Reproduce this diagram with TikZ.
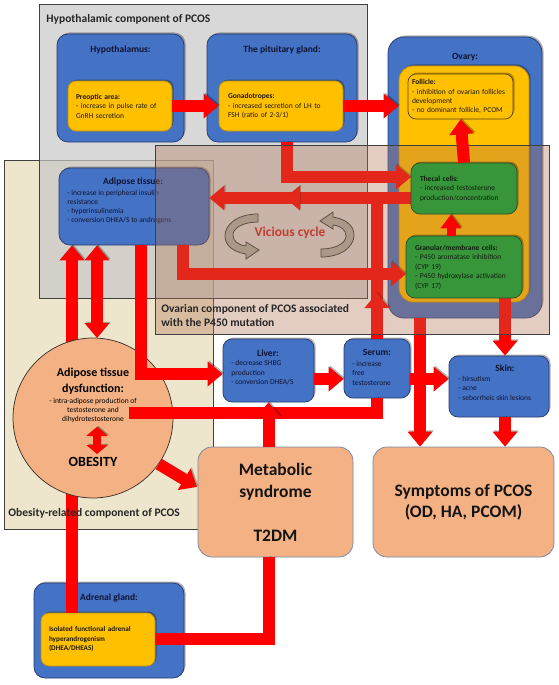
\documentclass[tikz,border=0pt]{standalone}
\usepackage{fontspec}
\setmainfont{Carlito}
\usetikzlibrary{arrows.meta,calc}

\tikzset{every picture/.style={line width=0.75pt}}
\tikzset{
	region/.style={draw={rgb, 255:red, 64; green, 64; blue, 64}, inner sep=0pt},
	regiontitle/.style={font=\fontsize{11.5}{14}\selectfont\bfseries, text={rgb, 255:red, 38; green, 38; blue, 38}, inner sep=0pt, anchor=west, align=left},
	boxshadow/.style={preaction={fill=black, fill opacity=0.3, transform canvas={shift={(1.5pt,1.5pt)}}}},
	bluebox/.style={draw={rgb, 255:red, 40; green, 60; blue, 110}, fill={rgb, 255:red, 68; green, 114; blue, 196}, rounded corners=11pt, inner sep=0pt, boxshadow},
	yellowbox/.style={draw={rgb, 255:red, 191; green, 144; blue, 0}, fill={rgb, 255:red, 255; green, 192; blue, 0}, rounded corners=8pt, inner sep=0pt, align=left, font=\fontsize{7.5}{9.5}\selectfont, text={rgb, 255:red, 30; green, 25; blue, 10}, boxshadow},
	greenbox/.style={draw={rgb, 255:red, 40; green, 80; blue, 40}, fill={rgb, 255:red, 56; green, 150; blue, 58}, rounded corners=9pt, inner sep=0pt, align=left, font=\fontsize{7.5}{9.5}\selectfont, text={rgb, 255:red, 15; green, 30; blue, 15}, boxshadow},
	salmonbox/.style={draw={rgb, 255:red, 120; green, 135; blue, 170}, fill={rgb, 255:red, 244; green, 177; blue, 131}, rounded corners=14pt, inner sep=0pt, align=center, font=\fontsize{17.5}{22}\selectfont\bfseries, text={rgb, 255:red, 20; green, 20; blue, 20}},
	boxtitle/.style={font=\fontsize{9.5}{11}\selectfont\bfseries, text={rgb, 255:red, 15; green, 20; blue, 50}, inner sep=0pt},
	bodytext/.style={font=\fontsize{7.5}{9.5}\selectfont, text={rgb, 255:red, 15; green, 20; blue, 50}, inner sep=0pt, align=left, anchor=west},
	flow/.style={draw={rgb, 255:red, 255; green, 0; blue, 0}, line width=12pt, -{Triangle[length=15pt,width=24pt]}, preaction={draw=black, opacity=0.3, transform canvas={shift={(1.2pt,1.2pt)}}}},
	bar/.style={flow, -},
	dflow/.style={flow, {Triangle[length=15pt,width=24pt]}-{Triangle[length=15pt,width=24pt]}},
	cyclearrow/.style={draw={rgb, 255:red, 90; green, 75; blue, 65}, fill={rgb, 255:red, 168; green, 148; blue, 132}, fill opacity=0.85}
}

\begin{document}
\begin{tikzpicture}[x=1pt,y=1pt,yscale=-1,xscale=1]
	\useasboundingbox (0,0) rectangle (558,685);

	%Regions
	\node[region, fill={rgb, 255:red, 238; green, 230; blue, 204}, minimum width=209pt, minimum height=369pt] (obesityreg) at (108.5,344.5) {};
	\node[region, fill={rgb, 255:red, 200; green, 200; blue, 200}, fill opacity=0.7, minimum width=328pt, minimum height=294pt] (hyporeg) at (203,151) {};

	%Hypothalamus
	\node[bluebox, minimum width=127pt, minimum height=108pt] (hypo) at (120.5,88) {};
	\node[boxtitle] (hypotitle) at (120.5,50) {Hypothalamus:};
	\node[yellowbox, minimum width=104pt, minimum height=50pt, text width=88pt] (preoptic) at (120,106) {\textbf{Preoptic area:}\\- increase in pulse rate of\\GnRH secretion};
	%Pituitary gland
	\node[bluebox, minimum width=150pt, minimum height=108pt] (pitu) at (282,88) {};
	\node[boxtitle] (pitutitle) at (282,50) {The pituitary gland:};
	\node[yellowbox, minimum width=124pt, minimum height=50pt, text width=106pt] (gonad) at (281,106) {\textbf{Gonadotropes:}\\- increased secretion of LH to\\FSH (ratio of 2-3/1)};
	%Ovary
	\node[bluebox, rounded corners=16pt, minimum width=154pt, minimum height=281pt] (ovary) at (465,177.5) {};
	\node[boxtitle] (ovarytitle) at (465,57) {Ovary:};
	\node[yellowbox, rounded corners=14pt, minimum width=130pt, minimum height=236pt] (ovaryin) at (464,184) {};
	\node[yellowbox, draw={rgb, 255:red, 90; green, 70; blue, 20}, font=\fontsize{7.5}{9.3}\selectfont, minimum width=105pt, minimum height=45pt, text width=97pt] (follicle) at (460.5,96.5) {\textbf{Follicle:}\\- inhibition of ovarian follicles\\development\\- no dominant follicle, PCOM};
	%Adipose tissue
	\node[bluebox, minimum width=150pt, minimum height=77pt] (adipose) at (134,206.5) {};
	\node[boxtitle] (adiposetitle) at (133,182) {Adipose tissue:};
	\node[bodytext, font=\fontsize{7.5}{9.3}\selectfont] (adiposebody) at (67,207) {- increase in peripheral insulin\\resistance\\- hyperinsulinemia\\- conversion DHEA/S to androgens};
	%Liver, serum, skin
	\node[bluebox, rounded corners=9pt, minimum width=91pt, minimum height=63pt] (liver) at (268.5,370.5) {};
	\node[boxtitle] (livertitle) at (268,353) {Liver:};
	\node[bodytext] (liverbody) at (231,373) {- decrease SHBG\\production\\- conversion DHEA/S};
	\node[bluebox, rounded corners=9pt, minimum width=66pt, minimum height=59pt] (serum) at (377,368.5) {};
	\node[boxtitle] (serumtitle) at (377,352) {Serum:};
	\node[bodytext] (serumbody) at (352,373) {- increase\\free\\testosterone};
	\node[bluebox, rounded corners=9pt, minimum width=100pt, minimum height=61pt] (skin) at (499,386.5) {};
	\node[boxtitle] (skintitle) at (505,368) {Skin:};
	\node[bodytext] (skinbody) at (458,388) {- hirsutism\\- acne\\- seborrheic skin lesions};
	%Adrenal gland
	\node[bluebox, minimum width=150pt, minimum height=95pt] (adrenal) at (109,630.5) {};
	\node[boxtitle] (adrenaltitle) at (109,598) {Adrenal gland:};
	\node[yellowbox, font=\fontsize{7.2}{9.5}\selectfont\bfseries, minimum width=114pt, minimum height=53pt, text width=98pt] (adrenalin) at (98,639.5) {Isolated functional adrenal\\hyperandrogenism\\(DHEA/DHEAS)};
	%Metabolic syndrome, symptoms
	\node[salmonbox, minimum width=155pt, minimum height=110pt] (metab) at (275.5,502) {Metabolic\\syndrome\\[22pt]T2DM};
	\node[salmonbox, font=\fontsize{17.5}{21}\selectfont\bfseries, minimum width=181pt, minimum height=110pt] (symptoms) at (463.5,502) {Symptoms of PCOS\\(OD, HA, PCOM)};

	%Arrows
	\coordinate (k1) at (287,177);
	\coordinate (k2) at (377,198);
	\coordinate (k3) at (285,198);
	\coordinate (k4) at (377,293);
	\coordinate (k5) at (183,274);
	\coordinate (k6) at (141,374);
	\coordinate (k7) at (72,0);
	\coordinate (k8) at (97,338);
	\coordinate (k9) at (129,413);
	\coordinate (k10) at (197,487);
	\coordinate (k11) at (0,379);
	\coordinate (k12) at (420,0);
	\coordinate (k13) at (505,0);
	\coordinate (k14) at (269,639);
	\coordinate (k15) at (451,0);
	\coordinate (thecalw) at (411,0);
	\coordinate (granw) at (406,0);
	\coordinate (grans) at (0,298);

	\draw[flow] (adrenalin.north -| k7) -- (adipose.south -| k7);
	\draw[bar] (k14 -| adrenalin.east) -- (k14) -- (k14 |- metab.south);

	%Adipose tissue dysfunction
	\node[circle, draw={rgb, 255:red, 60; green, 50; blue, 45}, fill={rgb, 255:red, 244; green, 177; blue, 131}, minimum size=160pt, inner sep=0pt] (atd) at (93,418) {};
	\node[align=center, inner sep=0pt, font=\fontsize{12}{16}\selectfont\bfseries] (atdtitle) at (93,381) {Adipose tissue\\dysfunction:};
	\node[align=center, inner sep=0pt, font=\fontsize{7.5}{9}\selectfont] (atdbody) at (93,410) {- intra-adipose production of\\testosterone and\\dihydrotestosterone};
	\node[inner sep=0pt, font=\fontsize{14}{16}\selectfont\bfseries] (obesity) at (93,462) {OBESITY};
	\coordinate (d1) at (97,427);
	\coordinate (d2) at (97,454);
	\draw[dflow, line width=8pt, {Triangle[length=9pt,width=21pt]}-{Triangle[length=9pt,width=21pt]}] (d1) -- (d2);

	\draw[flow] (preoptic) -- (gonad);
	\draw[flow] (gonad.east) -- (gonad.east -| ovaryin.west);
	\draw[flow] (pitu.south -| k1) -- (k1) -- (k1 -| thecalw);
	\draw[flow] (serum.north) -- (k2) -- (k2 -| adipose.east);
	\draw[bar] (k2 -| thecalw) -- (k2);
	\draw[flow] ($(k3)+(15,0)$) -- (k3);
	\draw[flow] ($(k4)+(0,15)$) -- (k4);
	\draw[flow] (adipose.south -| k5) -- (k5) -- (k5 -| granw);
	\draw[flow] (adipose.south -| k6) -- (k6) -- (k6 -| liver.west);
	\draw[dflow] (adipose.south -| k8) -- (k8);
	\draw[bar] (k9) -- (k9 -| serum.south) -- (serum.south);
	\draw[flow] (atd.-35) -- (k10);
	\draw[flow] (metab.north -| liver.south) -- (liver.south);
	\draw[flow] (liver.east |- k11) -- (serum.west |- k11);
	\draw[flow] (serum.east |- k11) -- (skin.west |- k11);
	\draw[flow] (ovary.south -| k12) -- (symptoms.north -| k12);
	\draw[flow] (grans -| k13) -- (skin.north -| k13);
	\draw[flow] (skin.south -| k13) -- (symptoms.north -| k13);

	%Ovarian region overlay
	\node[region, fill={rgb, 255:red, 176; green, 112; blue, 80}, fill opacity=0.35, minimum width=394pt, minimum height=189pt] (ovarianreg) at (352,239.5) {};

	%Thecal and granular cells
	\node[greenbox, minimum width=106pt, minimum height=51pt, text width=88pt] (thecal) at (464,188.5) {\textbf{Thecal cells:}\\- increased testosterone\\production/concentration};
	\node[greenbox, minimum width=116pt, minimum height=62pt, text width=98pt] (granular) at (464,267) {\textbf{Granular/membrane cells:}\\- P450 aromatase inhibition\\(CYP 19)\\- P450 hydroxylase activation\\(CYP 17)};
	\draw[flow] (thecal.north) -- (follicle.south);
	\draw[flow, line width=9pt, -{Triangle[length=14pt,width=20pt]}] (granular.north -| k15) -- (thecal.south -| k15);

	%Vicious cycle
	\draw[cyclearrow] (258,214) .. controls (238,214) and (225,224) .. (225,236) .. controls (225,246) and (234,252) .. (246,254) -- (246,259) -- (259,250) -- (246,242) -- (246,246) .. controls (238,245) and (233,241) .. (233,235) .. controls (233,228) and (243,222) .. (258,222) -- cycle;
	\draw[cyclearrow, rotate around={180:(289.5,235.5)}] (258,214) .. controls (238,214) and (225,224) .. (225,236) .. controls (225,246) and (234,252) .. (246,254) -- (246,259) -- (259,250) -- (246,242) -- (246,246) .. controls (238,245) and (233,241) .. (233,235) .. controls (233,228) and (243,222) .. (258,222) -- cycle;
	\node[inner sep=0pt, font=\fontsize{13.5}{16}\selectfont\bfseries, text={rgb, 255:red, 192; green, 60; blue, 50}] (vicious) at (290,233) {Vicious cycle};

	%Region titles
	\node[regiontitle] (hypolabel) at (46,19) {Hypothalamic component of PCOS};
	\node[regiontitle] (ovarianlabel) at (161,316) {Ovarian component of PCOS associated\\with the P450 mutation};
	\node[regiontitle] (obesitylabel) at (8,513) {Obesity-related component of PCOS};

\end{tikzpicture}
\end{document}
